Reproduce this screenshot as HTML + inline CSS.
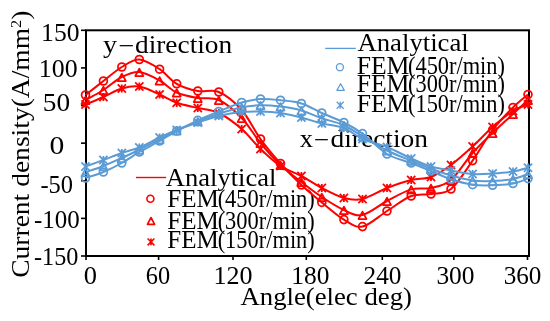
<!DOCTYPE html>
<html><head><meta charset="utf-8"><title>Current density chart</title>
<style>
html,body{margin:0;padding:0;background:#fff;}
svg{display:block;}
text{font-family:"Liberation Serif","DejaVu Serif",serif;fill:#000;}
</style></head><body>
<svg width="550" height="321" viewBox="0 0 550 321">
<rect width="550" height="321" fill="#fff"/>
<rect x="86" y="30.3" width="443" height="225.7" fill="none" stroke="#000" stroke-width="2"/>
<line x1="81" y1="30.30" x2="86" y2="30.30" stroke="#000" stroke-width="1.6"/>
<line x1="81" y1="67.92" x2="86" y2="67.92" stroke="#000" stroke-width="1.6"/>
<line x1="81" y1="105.53" x2="86" y2="105.53" stroke="#000" stroke-width="1.6"/>
<line x1="81" y1="143.15" x2="86" y2="143.15" stroke="#000" stroke-width="1.6"/>
<line x1="81" y1="180.77" x2="86" y2="180.77" stroke="#000" stroke-width="1.6"/>
<line x1="81" y1="218.38" x2="86" y2="218.38" stroke="#000" stroke-width="1.6"/>
<line x1="81" y1="256.00" x2="86" y2="256.00" stroke="#000" stroke-width="1.6"/>
<line x1="86.00" y1="256" x2="86.00" y2="260" stroke="#000" stroke-width="1.6"/>
<line x1="158.60" y1="256" x2="158.60" y2="260" stroke="#000" stroke-width="1.6"/>
<line x1="233.00" y1="256" x2="233.00" y2="260" stroke="#000" stroke-width="1.6"/>
<line x1="306.30" y1="256" x2="306.30" y2="260" stroke="#000" stroke-width="1.6"/>
<line x1="382.30" y1="256" x2="382.30" y2="260" stroke="#000" stroke-width="1.6"/>
<line x1="453.80" y1="256" x2="453.80" y2="260" stroke="#000" stroke-width="1.6"/>
<line x1="527.50" y1="256" x2="527.50" y2="260" stroke="#000" stroke-width="1.6"/>
<line x1="325.2" y1="48.4" x2="355.8" y2="48.4" stroke="#5b9bd5" stroke-width="1.3"/>
<circle cx="339.90" cy="67.20" r="3.50" fill="none" stroke="#5b9bd5" stroke-width="1.30"/>
<path d="M340.60 83.70L344.30 90.30L336.90 90.30Z" fill="none" stroke="#5b9bd5" stroke-width="1.30" stroke-linejoin="round"/>
<path d="M340.20 101.70V108.70M336.70 101.70L343.70 108.70M336.70 108.70L343.70 101.70" fill="none" stroke="#5b9bd5" stroke-width="1.30"/>
<line x1="136" y1="177.5" x2="166" y2="177.5" stroke="#ff0000" stroke-width="1.4"/>
<circle cx="150.40" cy="198.75" r="3.50" fill="none" stroke="#ff0000" stroke-width="1.65"/>
<path d="M151.00 217.50L154.60 224.30L147.40 224.30Z" fill="none" stroke="#ff0000" stroke-width="1.65" stroke-linejoin="round"/>
<path d="M151.00 238.50V245.30M147.60 238.50L154.40 245.30M147.60 245.30L154.40 238.50" fill="none" stroke="#ff0000" stroke-width="1.65"/>
<text x="41.14" y="41.30" font-size="25.50" textLength="38.40" lengthAdjust="spacingAndGlyphs">150</text>
<text x="38.82" y="77.20" font-size="25.50" textLength="38.74" lengthAdjust="spacingAndGlyphs">100</text>
<text x="42.82" y="111.00" font-size="25.50" textLength="27.32" lengthAdjust="spacingAndGlyphs">50</text>
<text x="49.59" y="154.20" font-size="25.50" textLength="14.82" lengthAdjust="spacingAndGlyphs">0</text>
<text x="40.45" y="193.10" font-size="25.50" textLength="32.61" lengthAdjust="spacingAndGlyphs">-50</text>
<text x="33.95" y="228.40" font-size="25.50" textLength="45.73" lengthAdjust="spacingAndGlyphs">-100</text>
<text x="34.04" y="264.80" font-size="25.50" textLength="44.38" lengthAdjust="spacingAndGlyphs">-150</text>
<text x="83.75" y="284.20" font-size="25.50" textLength="13.23" lengthAdjust="spacingAndGlyphs">0</text>
<text x="145.75" y="284.20" font-size="25.50" textLength="24.32" lengthAdjust="spacingAndGlyphs">60</text>
<text x="213.41" y="284.20" font-size="25.50" textLength="39.06" lengthAdjust="spacingAndGlyphs">120</text>
<text x="291.26" y="284.20" font-size="25.50" textLength="38.09" lengthAdjust="spacingAndGlyphs">180</text>
<text x="363.57" y="284.00" font-size="25.50" textLength="37.86" lengthAdjust="spacingAndGlyphs">240</text>
<text x="436.41" y="284.40" font-size="25.50" textLength="38.12" lengthAdjust="spacingAndGlyphs">300</text>
<text x="503.73" y="284.20" font-size="25.50" textLength="37.71" lengthAdjust="spacingAndGlyphs">360</text>
<text x="240.49" y="304.80" font-size="25.50" textLength="171.42" lengthAdjust="spacingAndGlyphs">Angle(elec deg)</text>
<text x="102.92" y="53.30" font-size="25.00" textLength="14.08" lengthAdjust="spacingAndGlyphs">y</text>
<text x="118.21" y="54.40" font-size="25.00" textLength="15.98" lengthAdjust="spacingAndGlyphs">−</text>
<text x="134.99" y="53.30" font-size="25.00" textLength="97.23" lengthAdjust="spacingAndGlyphs">direction</text>
<text x="299.82" y="146.80" font-size="25.00" textLength="13.29" lengthAdjust="spacingAndGlyphs">x</text>
<text x="313.82" y="147.80" font-size="25.00" textLength="15.36" lengthAdjust="spacingAndGlyphs">−</text>
<text x="330.47" y="146.80" font-size="25.00" textLength="97.56" lengthAdjust="spacingAndGlyphs">direction</text>
<text x="357.40" y="50.50" font-size="24.50" textLength="111.41" lengthAdjust="spacingAndGlyphs">Analytical</text>
<text x="356.67" y="73.70" font-size="24.50" textLength="52.77" lengthAdjust="spacingAndGlyphs">FEM</text>
<text x="407.98" y="73.70" font-size="24.50" textLength="97.04" lengthAdjust="spacingAndGlyphs">(450r/min)</text>
<text x="356.67" y="92.40" font-size="24.50" textLength="52.77" lengthAdjust="spacingAndGlyphs">FEM</text>
<text x="407.98" y="92.40" font-size="24.50" textLength="97.04" lengthAdjust="spacingAndGlyphs">(300r/min)</text>
<text x="356.67" y="111.90" font-size="24.50" textLength="52.77" lengthAdjust="spacingAndGlyphs">FEM</text>
<text x="407.98" y="111.90" font-size="24.50" textLength="97.04" lengthAdjust="spacingAndGlyphs">(150r/min)</text>
<text x="165.89" y="185.90" font-size="24.50" textLength="110.52" lengthAdjust="spacingAndGlyphs">Analytical</text>
<text x="167.37" y="206.80" font-size="24.50" textLength="51.47" lengthAdjust="spacingAndGlyphs">FEM</text>
<text x="217.67" y="206.80" font-size="24.50" textLength="97.15" lengthAdjust="spacingAndGlyphs">(450r/min)</text>
<text x="167.37" y="228.50" font-size="24.50" textLength="51.47" lengthAdjust="spacingAndGlyphs">FEM</text>
<text x="217.67" y="228.50" font-size="24.50" textLength="97.15" lengthAdjust="spacingAndGlyphs">(300r/min)</text>
<text x="167.37" y="247.80" font-size="24.50" textLength="51.47" lengthAdjust="spacingAndGlyphs">FEM</text>
<text x="217.67" y="247.80" font-size="24.50" textLength="97.15" lengthAdjust="spacingAndGlyphs">(150r/min)</text>
<text transform="translate(29.30,277.80) rotate(-90)" font-size="25.50" textLength="267.20" lengthAdjust="spacingAndGlyphs">Current density(A/mm<tspan font-size="15" dy="-8.5">2</tspan><tspan dy="8.5">)</tspan></text>
<path d="M85.50 95.00 C88.48 92.67 97.35 85.67 103.40 81.00 C109.45 76.33 115.82 70.58 121.80 67.00 C127.78 63.42 133.00 59.13 139.30 59.50 C145.60 59.87 153.37 65.15 159.60 69.20 C165.83 73.25 170.33 80.17 176.70 83.80 C183.07 87.43 190.78 89.63 197.80 91.00 C204.82 92.37 211.48 88.83 218.80 92.00 C226.12 95.17 234.75 102.17 241.70 110.00 C248.65 117.83 254.03 130.08 260.50 139.00 C266.97 147.92 273.68 155.83 280.50 163.50 C287.32 171.17 294.52 178.52 301.40 185.00 C308.28 191.48 314.72 196.63 321.80 202.40 C328.88 208.17 337.12 215.57 343.90 219.60 C350.68 223.63 355.32 228.03 362.50 226.60 C369.68 225.17 378.88 216.10 387.00 211.00 C395.12 205.90 403.87 198.83 411.20 196.00 C418.53 193.17 424.37 195.17 431.00 194.00 C437.63 192.83 444.07 194.57 451.00 189.00 C457.93 183.43 465.67 170.43 472.60 160.60 C479.53 150.77 485.87 138.85 492.60 130.00 C499.33 121.15 507.10 113.42 513.00 107.50 C518.90 101.58 525.50 96.67 528.00 94.50" fill="none" stroke="#ff0000" stroke-width="2.00"/>
<path d="M85.50 100.00 C88.48 98.33 97.35 93.83 103.40 90.00 C109.45 86.17 115.82 80.00 121.80 77.00 C127.78 74.00 133.00 71.42 139.30 72.00 C145.60 72.58 153.37 77.08 159.60 80.50 C165.83 83.92 170.33 89.58 176.70 92.50 C183.07 95.42 190.78 96.75 197.80 98.00 C204.82 99.25 211.48 96.67 218.80 100.00 C226.12 103.33 234.75 110.83 241.70 118.00 C248.65 125.17 254.03 135.17 260.50 143.00 C266.97 150.83 273.68 158.50 280.50 165.00 C287.32 171.50 294.52 176.67 301.40 182.00 C308.28 187.33 314.72 192.33 321.80 197.00 C328.88 201.67 337.12 207.00 343.90 210.00 C350.68 213.00 355.32 216.50 362.50 215.00 C369.68 213.50 378.88 205.27 387.00 201.00 C395.12 196.73 403.87 191.57 411.20 189.40 C418.53 187.23 424.37 189.57 431.00 188.00 C437.63 186.43 444.07 185.83 451.00 180.00 C457.93 174.17 465.67 160.83 472.60 153.00 C479.53 145.17 485.87 139.50 492.60 133.00 C499.33 126.50 507.10 119.50 513.00 114.00 C518.90 108.50 525.50 102.33 528.00 100.00" fill="none" stroke="#ff0000" stroke-width="2.00"/>
<path d="M85.50 104.50 C88.48 103.25 97.35 99.67 103.40 97.00 C109.45 94.33 115.82 90.25 121.80 88.50 C127.78 86.75 133.00 85.50 139.30 86.50 C145.60 87.50 153.37 91.78 159.60 94.50 C165.83 97.22 170.33 100.55 176.70 102.80 C183.07 105.05 190.78 106.30 197.80 108.00 C204.82 109.70 211.48 109.50 218.80 113.00 C226.12 116.50 234.75 123.00 241.70 129.00 C248.65 135.00 254.03 142.83 260.50 149.00 C266.97 155.17 273.68 161.50 280.50 166.00 C287.32 170.50 294.52 172.33 301.40 176.00 C308.28 179.67 314.72 184.33 321.80 188.00 C328.88 191.67 337.12 196.17 343.90 198.00 C350.68 199.83 355.32 200.67 362.50 199.00 C369.68 197.33 378.88 191.17 387.00 188.00 C395.12 184.83 403.87 181.83 411.20 180.00 C418.53 178.17 424.37 179.50 431.00 177.00 C437.63 174.50 444.07 170.08 451.00 165.00 C457.93 159.92 465.67 152.83 472.60 146.50 C479.53 140.17 485.87 132.92 492.60 127.00 C499.33 121.08 507.10 114.75 513.00 111.00 C518.90 107.25 525.50 105.58 528.00 104.50" fill="none" stroke="#ff0000" stroke-width="2.00"/>
<circle cx="85.50" cy="95.00" r="3.90" fill="none" stroke="#ff0000" stroke-width="1.75"/>
<path d="M85.50 96.60L89.50 104.00L81.50 104.00Z" fill="none" stroke="#ff0000" stroke-width="1.75" stroke-linejoin="round"/>
<path d="M85.50 100.40V108.60M81.40 100.40L89.60 108.60M81.40 108.60L89.60 100.40" fill="none" stroke="#ff0000" stroke-width="1.75"/>
<circle cx="103.40" cy="81.00" r="3.90" fill="none" stroke="#ff0000" stroke-width="1.75"/>
<path d="M103.40 86.60L107.40 94.00L99.40 94.00Z" fill="none" stroke="#ff0000" stroke-width="1.75" stroke-linejoin="round"/>
<path d="M103.40 92.90V101.10M99.30 92.90L107.50 101.10M99.30 101.10L107.50 92.90" fill="none" stroke="#ff0000" stroke-width="1.75"/>
<circle cx="121.80" cy="67.00" r="3.90" fill="none" stroke="#ff0000" stroke-width="1.75"/>
<path d="M121.80 73.60L125.80 81.00L117.80 81.00Z" fill="none" stroke="#ff0000" stroke-width="1.75" stroke-linejoin="round"/>
<path d="M121.80 84.40V92.60M117.70 84.40L125.90 92.60M117.70 92.60L125.90 84.40" fill="none" stroke="#ff0000" stroke-width="1.75"/>
<circle cx="139.30" cy="59.50" r="3.90" fill="none" stroke="#ff0000" stroke-width="1.75"/>
<path d="M139.30 68.60L143.30 76.00L135.30 76.00Z" fill="none" stroke="#ff0000" stroke-width="1.75" stroke-linejoin="round"/>
<path d="M139.30 82.40V90.60M135.20 82.40L143.40 90.60M135.20 90.60L143.40 82.40" fill="none" stroke="#ff0000" stroke-width="1.75"/>
<circle cx="159.60" cy="69.20" r="3.90" fill="none" stroke="#ff0000" stroke-width="1.75"/>
<path d="M159.60 77.10L163.60 84.50L155.60 84.50Z" fill="none" stroke="#ff0000" stroke-width="1.75" stroke-linejoin="round"/>
<path d="M159.60 90.40V98.60M155.50 90.40L163.70 98.60M155.50 98.60L163.70 90.40" fill="none" stroke="#ff0000" stroke-width="1.75"/>
<circle cx="176.70" cy="83.80" r="3.90" fill="none" stroke="#ff0000" stroke-width="1.75"/>
<path d="M176.70 89.10L180.70 96.50L172.70 96.50Z" fill="none" stroke="#ff0000" stroke-width="1.75" stroke-linejoin="round"/>
<path d="M176.70 98.70V106.90M172.60 98.70L180.80 106.90M172.60 106.90L180.80 98.70" fill="none" stroke="#ff0000" stroke-width="1.75"/>
<circle cx="197.80" cy="91.00" r="3.90" fill="none" stroke="#ff0000" stroke-width="1.75"/>
<path d="M197.80 94.60L201.80 102.00L193.80 102.00Z" fill="none" stroke="#ff0000" stroke-width="1.75" stroke-linejoin="round"/>
<path d="M197.80 103.90V112.10M193.70 103.90L201.90 112.10M193.70 112.10L201.90 103.90" fill="none" stroke="#ff0000" stroke-width="1.75"/>
<circle cx="218.80" cy="92.00" r="3.90" fill="none" stroke="#ff0000" stroke-width="1.75"/>
<path d="M218.80 96.60L222.80 104.00L214.80 104.00Z" fill="none" stroke="#ff0000" stroke-width="1.75" stroke-linejoin="round"/>
<path d="M218.80 108.90V117.10M214.70 108.90L222.90 117.10M214.70 117.10L222.90 108.90" fill="none" stroke="#ff0000" stroke-width="1.75"/>
<circle cx="241.70" cy="110.00" r="3.90" fill="none" stroke="#ff0000" stroke-width="1.75"/>
<path d="M241.70 114.60L245.70 122.00L237.70 122.00Z" fill="none" stroke="#ff0000" stroke-width="1.75" stroke-linejoin="round"/>
<path d="M241.70 124.90V133.10M237.60 124.90L245.80 133.10M237.60 133.10L245.80 124.90" fill="none" stroke="#ff0000" stroke-width="1.75"/>
<circle cx="260.50" cy="139.00" r="3.90" fill="none" stroke="#ff0000" stroke-width="1.75"/>
<path d="M260.50 139.60L264.50 147.00L256.50 147.00Z" fill="none" stroke="#ff0000" stroke-width="1.75" stroke-linejoin="round"/>
<path d="M260.50 144.90V153.10M256.40 144.90L264.60 153.10M256.40 153.10L264.60 144.90" fill="none" stroke="#ff0000" stroke-width="1.75"/>
<circle cx="280.50" cy="163.50" r="3.90" fill="none" stroke="#ff0000" stroke-width="1.75"/>
<path d="M280.50 161.60L284.50 169.00L276.50 169.00Z" fill="none" stroke="#ff0000" stroke-width="1.75" stroke-linejoin="round"/>
<path d="M280.50 161.90V170.10M276.40 161.90L284.60 170.10M276.40 170.10L284.60 161.90" fill="none" stroke="#ff0000" stroke-width="1.75"/>
<circle cx="301.40" cy="185.00" r="3.90" fill="none" stroke="#ff0000" stroke-width="1.75"/>
<path d="M301.40 178.60L305.40 186.00L297.40 186.00Z" fill="none" stroke="#ff0000" stroke-width="1.75" stroke-linejoin="round"/>
<path d="M301.40 171.90V180.10M297.30 171.90L305.50 180.10M297.30 180.10L305.50 171.90" fill="none" stroke="#ff0000" stroke-width="1.75"/>
<circle cx="321.80" cy="202.40" r="3.90" fill="none" stroke="#ff0000" stroke-width="1.75"/>
<path d="M321.80 193.60L325.80 201.00L317.80 201.00Z" fill="none" stroke="#ff0000" stroke-width="1.75" stroke-linejoin="round"/>
<path d="M321.80 183.90V192.10M317.70 183.90L325.90 192.10M317.70 192.10L325.90 183.90" fill="none" stroke="#ff0000" stroke-width="1.75"/>
<circle cx="343.90" cy="219.60" r="3.90" fill="none" stroke="#ff0000" stroke-width="1.75"/>
<path d="M343.90 206.60L347.90 214.00L339.90 214.00Z" fill="none" stroke="#ff0000" stroke-width="1.75" stroke-linejoin="round"/>
<path d="M343.90 193.90V202.10M339.80 193.90L348.00 202.10M339.80 202.10L348.00 193.90" fill="none" stroke="#ff0000" stroke-width="1.75"/>
<circle cx="362.50" cy="226.60" r="3.90" fill="none" stroke="#ff0000" stroke-width="1.75"/>
<path d="M362.50 211.60L366.50 219.00L358.50 219.00Z" fill="none" stroke="#ff0000" stroke-width="1.75" stroke-linejoin="round"/>
<path d="M362.50 194.90V203.10M358.40 194.90L366.60 203.10M358.40 203.10L366.60 194.90" fill="none" stroke="#ff0000" stroke-width="1.75"/>
<circle cx="387.00" cy="211.00" r="3.90" fill="none" stroke="#ff0000" stroke-width="1.75"/>
<path d="M387.00 197.60L391.00 205.00L383.00 205.00Z" fill="none" stroke="#ff0000" stroke-width="1.75" stroke-linejoin="round"/>
<path d="M387.00 183.90V192.10M382.90 183.90L391.10 192.10M382.90 192.10L391.10 183.90" fill="none" stroke="#ff0000" stroke-width="1.75"/>
<circle cx="411.20" cy="196.00" r="3.90" fill="none" stroke="#ff0000" stroke-width="1.75"/>
<path d="M411.20 186.00L415.20 193.40L407.20 193.40Z" fill="none" stroke="#ff0000" stroke-width="1.75" stroke-linejoin="round"/>
<path d="M411.20 175.90V184.10M407.10 175.90L415.30 184.10M407.10 184.10L415.30 175.90" fill="none" stroke="#ff0000" stroke-width="1.75"/>
<circle cx="431.00" cy="194.00" r="3.90" fill="none" stroke="#ff0000" stroke-width="1.75"/>
<path d="M431.00 184.60L435.00 192.00L427.00 192.00Z" fill="none" stroke="#ff0000" stroke-width="1.75" stroke-linejoin="round"/>
<path d="M431.00 172.90V181.10M426.90 172.90L435.10 181.10M426.90 181.10L435.10 172.90" fill="none" stroke="#ff0000" stroke-width="1.75"/>
<circle cx="451.00" cy="189.00" r="3.90" fill="none" stroke="#ff0000" stroke-width="1.75"/>
<path d="M451.00 176.60L455.00 184.00L447.00 184.00Z" fill="none" stroke="#ff0000" stroke-width="1.75" stroke-linejoin="round"/>
<path d="M451.00 160.90V169.10M446.90 160.90L455.10 169.10M446.90 169.10L455.10 160.90" fill="none" stroke="#ff0000" stroke-width="1.75"/>
<circle cx="472.60" cy="160.60" r="3.90" fill="none" stroke="#ff0000" stroke-width="1.75"/>
<path d="M472.60 149.60L476.60 157.00L468.60 157.00Z" fill="none" stroke="#ff0000" stroke-width="1.75" stroke-linejoin="round"/>
<path d="M472.60 142.40V150.60M468.50 142.40L476.70 150.60M468.50 150.60L476.70 142.40" fill="none" stroke="#ff0000" stroke-width="1.75"/>
<circle cx="492.60" cy="130.00" r="3.90" fill="none" stroke="#ff0000" stroke-width="1.75"/>
<path d="M492.60 129.60L496.60 137.00L488.60 137.00Z" fill="none" stroke="#ff0000" stroke-width="1.75" stroke-linejoin="round"/>
<path d="M492.60 122.90V131.10M488.50 122.90L496.70 131.10M488.50 131.10L496.70 122.90" fill="none" stroke="#ff0000" stroke-width="1.75"/>
<circle cx="513.00" cy="107.50" r="3.90" fill="none" stroke="#ff0000" stroke-width="1.75"/>
<path d="M513.00 110.60L517.00 118.00L509.00 118.00Z" fill="none" stroke="#ff0000" stroke-width="1.75" stroke-linejoin="round"/>
<path d="M513.00 106.90V115.10M508.90 106.90L517.10 115.10M508.90 115.10L517.10 106.90" fill="none" stroke="#ff0000" stroke-width="1.75"/>
<circle cx="528.00" cy="94.50" r="3.90" fill="none" stroke="#ff0000" stroke-width="1.75"/>
<path d="M528.00 96.60L532.00 104.00L524.00 104.00Z" fill="none" stroke="#ff0000" stroke-width="1.75" stroke-linejoin="round"/>
<path d="M528.00 100.40V108.60M523.90 100.40L532.10 108.60M523.90 108.60L532.10 100.40" fill="none" stroke="#ff0000" stroke-width="1.75"/>
<path d="M85.50 178.00 C88.48 177.00 97.35 174.50 103.40 172.00 C109.45 169.50 115.82 166.33 121.80 163.00 C127.78 159.67 133.00 155.67 139.30 152.00 C145.60 148.33 153.37 144.50 159.60 141.00 C165.83 137.50 170.33 134.45 176.70 131.00 C183.07 127.55 190.78 123.55 197.80 120.30 C204.82 117.05 211.48 114.47 218.80 111.50 C226.12 108.53 234.75 104.58 241.70 102.50 C248.65 100.42 254.03 99.38 260.50 99.00 C266.97 98.62 273.68 99.45 280.50 100.20 C287.32 100.95 294.52 101.37 301.40 103.50 C308.28 105.63 314.72 109.83 321.80 113.00 C328.88 116.17 337.12 119.07 343.90 122.50 C350.68 125.93 355.32 128.35 362.50 133.60 C369.68 138.85 378.88 149.10 387.00 154.00 C395.12 158.90 403.87 160.17 411.20 163.00 C418.53 165.83 424.37 168.28 431.00 171.00 C437.63 173.72 444.07 177.02 451.00 179.30 C457.93 181.58 465.67 183.70 472.60 184.70 C479.53 185.70 485.87 185.50 492.60 185.30 C499.33 185.10 507.10 184.62 513.00 183.50 C518.90 182.38 525.50 179.42 528.00 178.60" fill="none" stroke="#5b9bd5" stroke-width="2.00"/>
<path d="M85.50 172.25 C88.48 171.21 97.35 168.38 103.40 166.00 C109.45 163.62 115.82 160.71 121.80 158.00 C127.78 155.29 133.00 152.88 139.30 149.75 C145.60 146.62 153.37 142.46 159.60 139.25 C165.83 136.04 170.33 133.47 176.70 130.50 C183.07 127.53 190.78 124.19 197.80 121.40 C204.82 118.61 211.48 116.11 218.80 113.75 C226.12 111.39 234.75 108.67 241.70 107.25 C248.65 105.83 254.03 105.36 260.50 105.25 C266.97 105.14 273.68 105.72 280.50 106.60 C287.32 107.47 294.52 108.56 301.40 110.50 C308.28 112.44 314.72 115.79 321.80 118.25 C328.88 120.71 337.12 122.24 343.90 125.25 C350.68 128.26 355.32 132.09 362.50 136.30 C369.68 140.51 378.88 146.43 387.00 150.50 C395.12 154.57 403.87 157.71 411.20 160.75 C418.53 163.79 424.37 166.29 431.00 168.75 C437.63 171.21 444.07 173.54 451.00 175.50 C457.93 177.46 465.67 179.58 472.60 180.50 C479.53 181.42 485.87 181.25 492.60 181.00 C499.33 180.75 507.10 180.17 513.00 179.00 C518.90 177.83 525.50 174.83 528.00 174.00" fill="none" stroke="#5b9bd5" stroke-width="2.00"/>
<path d="M85.50 166.50 C88.48 165.42 97.35 162.25 103.40 160.00 C109.45 157.75 115.82 155.08 121.80 153.00 C127.78 150.92 133.00 150.08 139.30 147.50 C145.60 144.92 153.37 140.42 159.60 137.50 C165.83 134.58 170.33 132.50 176.70 130.00 C183.07 127.50 190.78 124.83 197.80 122.50 C204.82 120.17 211.48 117.75 218.80 116.00 C226.12 114.25 234.75 112.75 241.70 112.00 C248.65 111.25 254.03 111.33 260.50 111.50 C266.97 111.67 273.68 112.00 280.50 113.00 C287.32 114.00 294.52 115.75 301.40 117.50 C308.28 119.25 314.72 121.75 321.80 123.50 C328.88 125.25 337.12 125.42 343.90 128.00 C350.68 130.58 355.32 135.83 362.50 139.00 C369.68 142.17 378.88 143.75 387.00 147.00 C395.12 150.25 403.87 155.25 411.20 158.50 C418.53 161.75 424.37 164.50 431.00 166.50 C437.63 168.50 444.07 169.25 451.00 170.50 C457.93 171.75 465.67 173.50 472.60 174.00 C479.53 174.50 485.87 173.92 492.60 173.50 C499.33 173.08 507.10 172.47 513.00 171.50 C518.90 170.53 525.50 168.33 528.00 167.70" fill="none" stroke="#5b9bd5" stroke-width="2.00"/>
<circle cx="85.50" cy="178.00" r="3.90" fill="none" stroke="#5b9bd5" stroke-width="1.75"/>
<path d="M85.50 168.85L89.50 176.25L81.50 176.25Z" fill="none" stroke="#5b9bd5" stroke-width="1.75" stroke-linejoin="round"/>
<path d="M85.50 162.40V170.60M81.40 162.40L89.60 170.60M81.40 170.60L89.60 162.40" fill="none" stroke="#5b9bd5" stroke-width="1.75"/>
<circle cx="103.40" cy="172.00" r="3.90" fill="none" stroke="#5b9bd5" stroke-width="1.75"/>
<path d="M103.40 162.60L107.40 170.00L99.40 170.00Z" fill="none" stroke="#5b9bd5" stroke-width="1.75" stroke-linejoin="round"/>
<path d="M103.40 155.90V164.10M99.30 155.90L107.50 164.10M99.30 164.10L107.50 155.90" fill="none" stroke="#5b9bd5" stroke-width="1.75"/>
<circle cx="121.80" cy="163.00" r="3.90" fill="none" stroke="#5b9bd5" stroke-width="1.75"/>
<path d="M121.80 154.60L125.80 162.00L117.80 162.00Z" fill="none" stroke="#5b9bd5" stroke-width="1.75" stroke-linejoin="round"/>
<path d="M121.80 148.90V157.10M117.70 148.90L125.90 157.10M117.70 157.10L125.90 148.90" fill="none" stroke="#5b9bd5" stroke-width="1.75"/>
<circle cx="139.30" cy="152.00" r="3.90" fill="none" stroke="#5b9bd5" stroke-width="1.75"/>
<path d="M139.30 146.35L143.30 153.75L135.30 153.75Z" fill="none" stroke="#5b9bd5" stroke-width="1.75" stroke-linejoin="round"/>
<path d="M139.30 143.40V151.60M135.20 143.40L143.40 151.60M135.20 151.60L143.40 143.40" fill="none" stroke="#5b9bd5" stroke-width="1.75"/>
<circle cx="159.60" cy="141.00" r="3.90" fill="none" stroke="#5b9bd5" stroke-width="1.75"/>
<path d="M159.60 135.85L163.60 143.25L155.60 143.25Z" fill="none" stroke="#5b9bd5" stroke-width="1.75" stroke-linejoin="round"/>
<path d="M159.60 133.40V141.60M155.50 133.40L163.70 141.60M155.50 141.60L163.70 133.40" fill="none" stroke="#5b9bd5" stroke-width="1.75"/>
<circle cx="176.70" cy="131.00" r="3.90" fill="none" stroke="#5b9bd5" stroke-width="1.75"/>
<path d="M176.70 127.10L180.70 134.50L172.70 134.50Z" fill="none" stroke="#5b9bd5" stroke-width="1.75" stroke-linejoin="round"/>
<path d="M176.70 125.90V134.10M172.60 125.90L180.80 134.10M172.60 134.10L180.80 125.90" fill="none" stroke="#5b9bd5" stroke-width="1.75"/>
<circle cx="197.80" cy="120.30" r="3.90" fill="none" stroke="#5b9bd5" stroke-width="1.75"/>
<path d="M197.80 118.00L201.80 125.40L193.80 125.40Z" fill="none" stroke="#5b9bd5" stroke-width="1.75" stroke-linejoin="round"/>
<path d="M197.80 118.40V126.60M193.70 118.40L201.90 126.60M193.70 126.60L201.90 118.40" fill="none" stroke="#5b9bd5" stroke-width="1.75"/>
<circle cx="218.80" cy="111.50" r="3.90" fill="none" stroke="#5b9bd5" stroke-width="1.75"/>
<path d="M218.80 110.35L222.80 117.75L214.80 117.75Z" fill="none" stroke="#5b9bd5" stroke-width="1.75" stroke-linejoin="round"/>
<path d="M218.80 111.90V120.10M214.70 111.90L222.90 120.10M214.70 120.10L222.90 111.90" fill="none" stroke="#5b9bd5" stroke-width="1.75"/>
<circle cx="241.70" cy="102.50" r="3.90" fill="none" stroke="#5b9bd5" stroke-width="1.75"/>
<path d="M241.70 103.85L245.70 111.25L237.70 111.25Z" fill="none" stroke="#5b9bd5" stroke-width="1.75" stroke-linejoin="round"/>
<path d="M241.70 107.90V116.10M237.60 107.90L245.80 116.10M237.60 116.10L245.80 107.90" fill="none" stroke="#5b9bd5" stroke-width="1.75"/>
<circle cx="260.50" cy="99.00" r="3.90" fill="none" stroke="#5b9bd5" stroke-width="1.75"/>
<path d="M260.50 101.85L264.50 109.25L256.50 109.25Z" fill="none" stroke="#5b9bd5" stroke-width="1.75" stroke-linejoin="round"/>
<path d="M260.50 107.40V115.60M256.40 107.40L264.60 115.60M256.40 115.60L264.60 107.40" fill="none" stroke="#5b9bd5" stroke-width="1.75"/>
<circle cx="280.50" cy="100.20" r="3.90" fill="none" stroke="#5b9bd5" stroke-width="1.75"/>
<path d="M280.50 103.20L284.50 110.60L276.50 110.60Z" fill="none" stroke="#5b9bd5" stroke-width="1.75" stroke-linejoin="round"/>
<path d="M280.50 108.90V117.10M276.40 108.90L284.60 117.10M276.40 117.10L284.60 108.90" fill="none" stroke="#5b9bd5" stroke-width="1.75"/>
<circle cx="301.40" cy="103.50" r="3.90" fill="none" stroke="#5b9bd5" stroke-width="1.75"/>
<path d="M301.40 107.10L305.40 114.50L297.40 114.50Z" fill="none" stroke="#5b9bd5" stroke-width="1.75" stroke-linejoin="round"/>
<path d="M301.40 113.40V121.60M297.30 113.40L305.50 121.60M297.30 121.60L305.50 113.40" fill="none" stroke="#5b9bd5" stroke-width="1.75"/>
<circle cx="321.80" cy="113.00" r="3.90" fill="none" stroke="#5b9bd5" stroke-width="1.75"/>
<path d="M321.80 114.85L325.80 122.25L317.80 122.25Z" fill="none" stroke="#5b9bd5" stroke-width="1.75" stroke-linejoin="round"/>
<path d="M321.80 119.40V127.60M317.70 119.40L325.90 127.60M317.70 127.60L325.90 119.40" fill="none" stroke="#5b9bd5" stroke-width="1.75"/>
<circle cx="343.90" cy="122.50" r="3.90" fill="none" stroke="#5b9bd5" stroke-width="1.75"/>
<path d="M343.90 121.85L347.90 129.25L339.90 129.25Z" fill="none" stroke="#5b9bd5" stroke-width="1.75" stroke-linejoin="round"/>
<path d="M343.90 123.90V132.10M339.80 123.90L348.00 132.10M339.80 132.10L348.00 123.90" fill="none" stroke="#5b9bd5" stroke-width="1.75"/>
<circle cx="362.50" cy="133.60" r="3.90" fill="none" stroke="#5b9bd5" stroke-width="1.75"/>
<path d="M362.50 132.90L366.50 140.30L358.50 140.30Z" fill="none" stroke="#5b9bd5" stroke-width="1.75" stroke-linejoin="round"/>
<path d="M362.50 134.90V143.10M358.40 134.90L366.60 143.10M358.40 143.10L366.60 134.90" fill="none" stroke="#5b9bd5" stroke-width="1.75"/>
<circle cx="387.00" cy="154.00" r="3.90" fill="none" stroke="#5b9bd5" stroke-width="1.75"/>
<path d="M387.00 147.10L391.00 154.50L383.00 154.50Z" fill="none" stroke="#5b9bd5" stroke-width="1.75" stroke-linejoin="round"/>
<path d="M387.00 142.90V151.10M382.90 142.90L391.10 151.10M382.90 151.10L391.10 142.90" fill="none" stroke="#5b9bd5" stroke-width="1.75"/>
<circle cx="411.20" cy="163.00" r="3.90" fill="none" stroke="#5b9bd5" stroke-width="1.75"/>
<path d="M411.20 157.35L415.20 164.75L407.20 164.75Z" fill="none" stroke="#5b9bd5" stroke-width="1.75" stroke-linejoin="round"/>
<path d="M411.20 154.40V162.60M407.10 154.40L415.30 162.60M407.10 162.60L415.30 154.40" fill="none" stroke="#5b9bd5" stroke-width="1.75"/>
<circle cx="431.00" cy="171.00" r="3.90" fill="none" stroke="#5b9bd5" stroke-width="1.75"/>
<path d="M431.00 165.35L435.00 172.75L427.00 172.75Z" fill="none" stroke="#5b9bd5" stroke-width="1.75" stroke-linejoin="round"/>
<path d="M431.00 162.40V170.60M426.90 162.40L435.10 170.60M426.90 170.60L435.10 162.40" fill="none" stroke="#5b9bd5" stroke-width="1.75"/>
<circle cx="451.00" cy="179.30" r="3.90" fill="none" stroke="#5b9bd5" stroke-width="1.75"/>
<path d="M451.00 172.10L455.00 179.50L447.00 179.50Z" fill="none" stroke="#5b9bd5" stroke-width="1.75" stroke-linejoin="round"/>
<path d="M451.00 166.40V174.60M446.90 166.40L455.10 174.60M446.90 174.60L455.10 166.40" fill="none" stroke="#5b9bd5" stroke-width="1.75"/>
<circle cx="472.60" cy="184.70" r="3.90" fill="none" stroke="#5b9bd5" stroke-width="1.75"/>
<path d="M472.60 177.10L476.60 184.50L468.60 184.50Z" fill="none" stroke="#5b9bd5" stroke-width="1.75" stroke-linejoin="round"/>
<path d="M472.60 169.90V178.10M468.50 169.90L476.70 178.10M468.50 178.10L476.70 169.90" fill="none" stroke="#5b9bd5" stroke-width="1.75"/>
<circle cx="492.60" cy="185.30" r="3.90" fill="none" stroke="#5b9bd5" stroke-width="1.75"/>
<path d="M492.60 177.60L496.60 185.00L488.60 185.00Z" fill="none" stroke="#5b9bd5" stroke-width="1.75" stroke-linejoin="round"/>
<path d="M492.60 169.40V177.60M488.50 169.40L496.70 177.60M488.50 177.60L496.70 169.40" fill="none" stroke="#5b9bd5" stroke-width="1.75"/>
<circle cx="513.00" cy="183.50" r="3.90" fill="none" stroke="#5b9bd5" stroke-width="1.75"/>
<path d="M513.00 175.60L517.00 183.00L509.00 183.00Z" fill="none" stroke="#5b9bd5" stroke-width="1.75" stroke-linejoin="round"/>
<path d="M513.00 167.40V175.60M508.90 167.40L517.10 175.60M508.90 175.60L517.10 167.40" fill="none" stroke="#5b9bd5" stroke-width="1.75"/>
<circle cx="528.00" cy="178.60" r="3.90" fill="none" stroke="#5b9bd5" stroke-width="1.75"/>
<path d="M528.00 170.60L532.00 178.00L524.00 178.00Z" fill="none" stroke="#5b9bd5" stroke-width="1.75" stroke-linejoin="round"/>
<path d="M528.00 163.60V171.80M523.90 163.60L532.10 171.80M523.90 171.80L532.10 163.60" fill="none" stroke="#5b9bd5" stroke-width="1.75"/>
</svg>
</body></html>
